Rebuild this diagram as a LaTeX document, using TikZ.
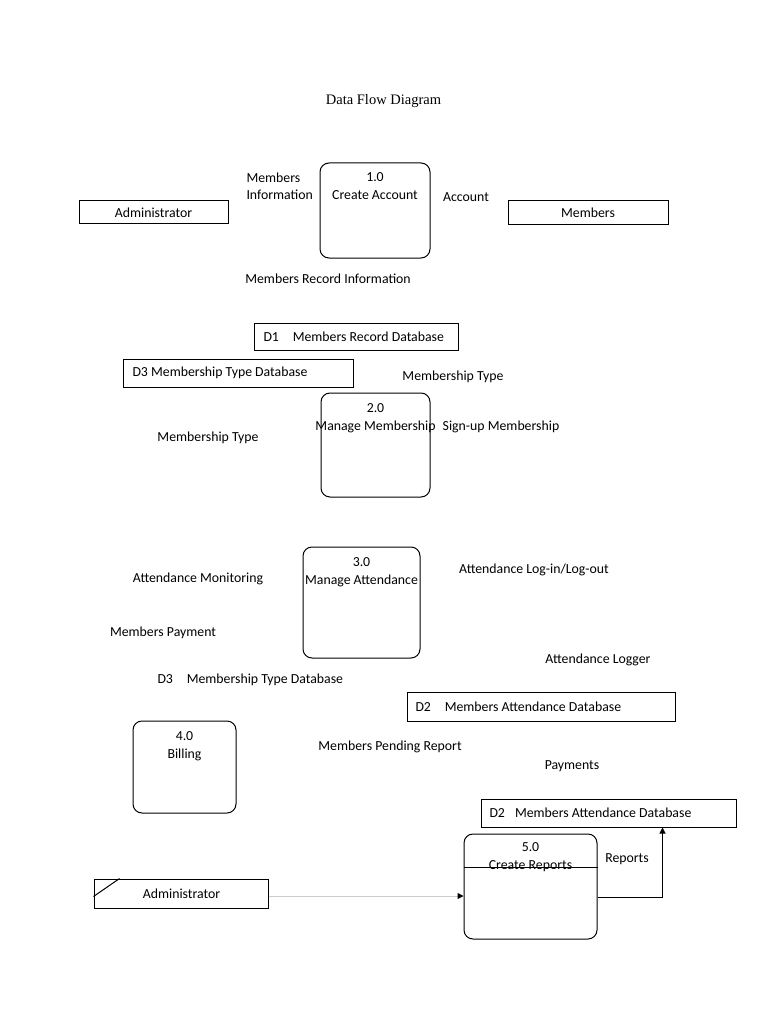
\documentclass[tikz,border=0pt]{standalone}
\usepackage{fontspec}
\setmainfont{Carlito}
\newfontfamily\titlefont{Liberation Serif}
\usetikzlibrary{positioning,arrows.meta}

\begin{document}
\begin{tikzpicture}[x=1pt,y=-1pt,line width=1pt,
	font=\fontsize{13.8}{17.5}\selectfont,
	entity/.style ={draw, rectangle, inner sep=0pt},
	proc/.style ={draw, rectangle, rounded corners=9pt, inner sep=0pt},
	ptext/.style ={align=center, inner sep=1pt},
	store/.style ={draw, rectangle, anchor=west, inner sep=0pt},
	stext/.style ={inner sep=0pt},
	flow/.style ={inner sep=0pt, align=left, yshift=-1.5pt}]
		\useasboundingbox (0,0) rectangle (768,1024);
		\node[font=\titlefont\fontsize{14.5}{17}\selectfont] (title) at (383.5,101) {Data Flow Diagram};
		\node[entity, minimum width=149pt, minimum height=23pt] (admin) at (153.5,212.5) {Administrator};
		\node[proc, minimum width=110pt, minimum height=95pt] (create) at (375,210.5) {};
		\node[ptext, below=9pt of create.north] (createtext) {1.0\\Create Account};
		\node[entity, minimum width=160pt, minimum height=24pt] (members) at (588,213) {Members};
		\node[store, minimum width=204pt, minimum height=27pt] (dbrecord) at (254,336.5) {};
		\node[stext, right=9pt of dbrecord.west] (dbrecordtext) {D1\quad Members Record Database};
		\node[store, minimum width=230pt, minimum height=28pt] (dbtype) at (123,373) {};
		\node[stext, right=9pt of dbtype.west] (dbtypetext) {D3 Membership Type Database};
		\node[proc, minimum width=109pt, minimum height=104pt] (manage) at (375.5,445) {};
		\node[ptext, below=10pt of manage.north] (managetext) {2.0\\Manage Membership};
		\node[proc, minimum width=117pt, minimum height=111pt] (attend) at (361.5,602.5) {};
		\node[ptext, below=10pt of attend.north] (attendtext) {3.0\\Manage Attendance};
		\node[store, minimum width=268pt, minimum height=29pt] (dbattend) at (407,706.5) {};
		\node[stext, right=8pt of dbattend.west] (dbattendtext) {D2\quad Members Attendance Database};
		\node[proc, minimum width=103pt, minimum height=92pt] (billing) at (184.5,767) {};
		\node[ptext, below=10pt of billing.north] (billingtext) {4.0\\Billing};
		\node[store, minimum width=255pt, minimum height=28pt] (dbreport) at (481,813) {};
		\node[stext, right=8pt of dbreport.west] (dbreporttext) {D2\enspace\ Members Attendance Database};
		\node[proc, minimum width=133pt, minimum height=105pt] (report) at (530.5,886.5) {};
		\node[ptext, below=8pt of report.north] (reporttext) {5.0\\Create Reports};
		\node[entity, minimum width=174pt, minimum height=29pt] (admintwo) at (181,893.5) {\hspace*{1pt}Administrator};
		\node[flow, anchor=west] (fmeminfo) at (246,185) {Members\\Information};
		\node[flow] (faccount) at (466,196) {Account};
		\node[flow] (frecord) at (328,277) {Members Record Information};
		\node[flow] (ftypeone) at (453,375) {Membership Type};
		\node[flow] (ftypetwo) at (208,436) {Membership Type};
		\node[flow] (fsignup) at (501,425) {Sign-up Membership};
		\node[flow] (fmonitor) at (198,577) {Attendance Monitoring};
		\node[flow] (flogin) at (534,568) {Attendance Log-in/Log-out};
		\node[flow] (fpayment) at (163,631) {Members Payment};
		\node[flow] (flogger) at (598,658) {Attendance Logger};
		\node[flow, anchor=west] (ftypedb) at (157,678) {D3\quad Membership Type Database};
		\node[flow] (fpending) at (390,745) {Members Pending Report};
		\node[flow] (fpayments) at (572,765) {Payments};
		\node[flow] (freports) at (627,858) {Reports};
		\draw ([yshift=-34pt]report.north west)--([yshift=-34pt]report.north east);
		\draw ([yshift=-18pt]admintwo.north west)--([xshift=26pt]admintwo.north west);
		\draw[black!20, -{Triangle[length=6pt,width=6pt,black]}] ([yshift=-2.5pt]admintwo.east)--([yshift=-2.5pt]admintwo.east -| report.west);
		\draw[-{Triangle[length=6pt,width=6pt]}] ([yshift=-10.5pt]report.east) -| ([xshift=53.5pt]dbreport.south);
	\end{tikzpicture}
\end{document}
